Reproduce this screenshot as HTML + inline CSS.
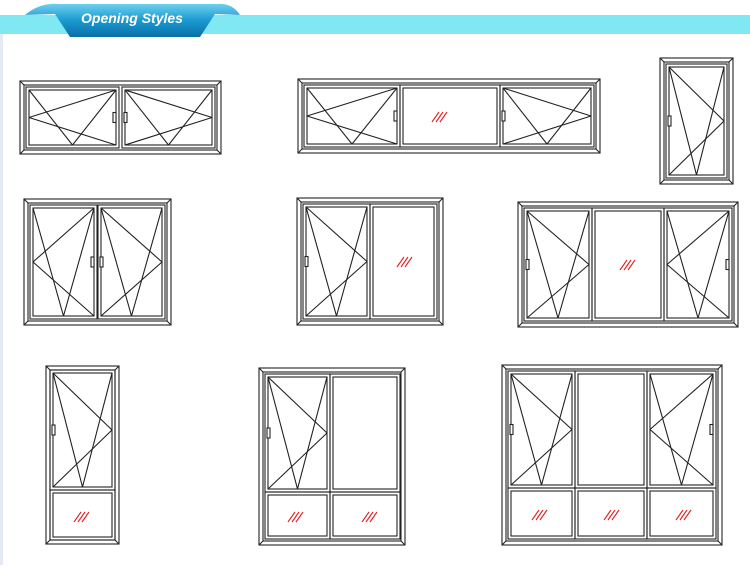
<!DOCTYPE html>
<html><head><meta charset="utf-8"><style>
body{margin:0;width:750px;height:565px;background:#fff;overflow:hidden;font-family:"Liberation Sans",sans-serif}
</style></head><body>
<svg id="s" width="750" height="565" xmlns="http://www.w3.org/2000/svg">
<defs><linearGradient id="g" x1="0" y1="0" x2="0" y2="1"><stop offset="0" stop-color="#6fd0ee"/><stop offset="0.5" stop-color="#1a9ad0"/><stop offset="1" stop-color="#0a6fa8"/></linearGradient></defs>
<rect x="0" y="15" width="750" height="19" fill="#80e8f2"/>
<rect x="0" y="34" width="3" height="531" fill="#e4eaf4"/>
<path d="M25,15 Q40,2 60,4 L215,4 Q232,2 240,15 L215,14 L200,37 L70,37 L55,14 Z" fill="url(#g)"/>
<text x="132" y="23" text-anchor="middle" fill="#fff" font-size="14" font-weight="bold" font-style="italic" font-family="Liberation Sans, sans-serif">Opening Styles</text>
<g id="w" fill="none" stroke="#222" stroke-width="1.1"></g>
</svg>
<script>
var o='';
function R(a,b,c,d){o+='<rect x="'+a+'" y="'+b+'" width="'+(c-a)+'" height="'+(d-b)+'"/>';}
function L(a,b,c,d,col){o+='<line x1="'+a+'" y1="'+b+'" x2="'+c+'" y2="'+d+'"'+(col?' stroke="'+col+'"':'')+'/>';}
function F(a,b,c,d){R(a,b,c,d);R(a+4,b+4,c-4,d-4);L(a,b,a+4,b+4);L(c,b,c-4,b+4);L(a,d,a+4,d-4);L(c,d,c-4,d-4);}
function P(a,b,c,d){R(a,b,c,d);R(a+3,b+3,c-3,d-3);}
function S(a,b,c,d,h){P(a,b,c,d);var x1=a+3,y1=b+3,x2=c-3,y2=d-3,m=(x1+x2)/2,my=(y1+y2)/2;
L(x1,y1,m,y2);L(x2,y1,m,y2);
if(h=='r'){L(x1,my,x2,y1);L(x1,my,x2,y2);o+='<rect x="'+(c-6)+'" y="'+(my-5)+'" width="3" height="10" fill="#fff"/>';}
else{L(x2,my,x1,y1);L(x2,my,x1,y2);o+='<rect x="'+(a+2)+'" y="'+(my-5)+'" width="3" height="10" fill="#fff"/>';}}
function M(x,y){for(var i=-1;i<=1;i++){var dx=i*4;L(x+dx-4,y+5,x+dx+3,y-5,'#e02020');}}
// 1
F(20,81,221,154);S(26,87,119,148,'r');S(122,87,215,148,'l');
// 2
F(298,79,600,153);S(304,85,400,147,'r');P(400,85,500,147);M(440,117);S(500,85,594,147,'l');
// 3
F(660,58,733,184);S(666,64,727,178,'l');
// 4
F(24,199,171,325);S(30,205,97,319,'r');S(98,205,165,319,'l');
// 5
F(297,198,443,325);S(303,204,370,319,'l');P(370,204,437,319);M(405,262);
// 6
F(518,202,738,327);S(524,208,592,321,'l');P(592,208,664,321);M(628,265);S(664,208,732,321,'r');
// 7
F(46,366,119,544);S(50,370,115,490,'l');P(50,490,115,540);M(82,517);
// 8
F(259,368,405,545);S(265,374,330,492,'l');P(330,374,400,492);P(265,492,330,539);P(330,492,400,539);M(296,517);M(370,517);
// 9
F(502,365,722,545);S(508,371,575,488,'l');P(575,371,647,488);S(647,371,716,488,'r');P(508,488,575,539);P(575,488,647,539);P(647,488,716,539);M(540,515);M(612,515);M(684,515);
document.getElementById('w').innerHTML=o;
</script>
</body></html>
